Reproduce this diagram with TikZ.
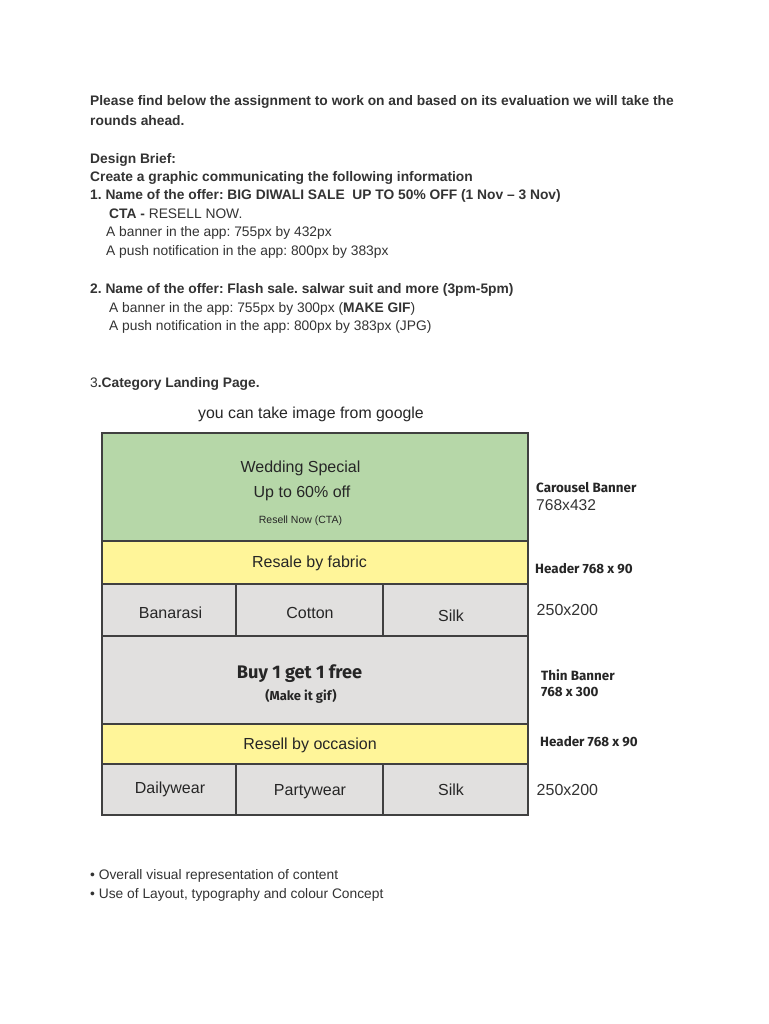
\documentclass[tikz,border=0pt]{standalone}
\usepackage{fontspec}
\setmainfont{Liberation Sans}
\newfontfamily\tagfont{Fira Sans}
\definecolor{bodygray}{HTML}{333333}
\definecolor{bannergreen}{HTML}{B6D7A8}
\definecolor{headeryellow}{HTML}{FFF599}
\definecolor{tilegray}{HTML}{E1E0DF}
\tikzset{
  bodyline/.style={anchor=base west,inner sep=0pt,text=bodygray,font=\fontsize{13.8}{15}\selectfont\frenchspacing},
  cell/.style={draw=black!75,line width=1.1pt,anchor=north west,inner sep=0pt,outer sep=0pt},
  boxtext/.style={inner sep=0pt,text=black!85,font=\fontsize{16}{18}\selectfont},
  sidelabel/.style={anchor=base west,inner sep=0pt,text=black!85,font=\tagfont\fontsize{13.4}{15}\selectfont\bfseries},
  sizelabel/.style={anchor=base west,inner sep=0pt,text=black!80,font=\fontsize{16}{18}\selectfont},
}
\begin{document}
\begin{tikzpicture}[x=1pt,y=1pt]
\useasboundingbox[fill=white] (0,0) rectangle (768,-1024);
% Drawing the brief
\node[bodyline] (intro) at (90,-106) {\textbf{Please find below the assignment to work on and based on its evaluation we will take the}};
\node[bodyline] (introb) at (90,-125.5) {\textbf{rounds ahead.}};
\node[bodyline] (brief) at (90,-163.5) {\textbf{Design Brief:}};
\node[bodyline] (create) at (90,-181.5) {\textbf{Create a graphic communicating the following information}};
\node[bodyline] (offera) at (90,-199.5) {\textbf{1. Name of the offer: BIG DIWALI SALE\ \ UP TO 50\% OFF (1 Nov – 3 Nov)}};
\node[bodyline] (cta) at (109,-218.5) {\textbf{CTA -} RESELL NOW.};
\node[bodyline] (bannera) at (106,-236.5) {A banner in the app: 755px by 432px};
\node[bodyline] (pusha) at (106,-255.5) {A push notification in the app: 800px by 383px};
\node[bodyline] (offerb) at (90,-293.5) {\textbf{2. Name of the offer: Flash sale. salwar suit and more (3pm-5pm)}};
\node[bodyline] (bannerb) at (109,-312.5) {A banner in the app: 755px by 300px (\textbf{MAKE GIF})};
\node[bodyline] (pushb) at (109,-330.5) {A push notification in the app: 800px by 383px (JPG)};
\node[bodyline] (landing) at (90,-387.5) {3\textbf{.Category Landing Page.}};
\node[anchor=base west,inner sep=0pt,text=black!85,font=\fontsize{15.85}{18}\selectfont] (google) at (198,-418) {you can take image from google};
% Drawing the page mockup
\node[cell,fill=bannergreen,minimum width=426pt,minimum height=108pt] (carousel) at (102,-433) {};
\node[cell,fill=headeryellow,minimum width=426pt,minimum height=43pt] (fabric) at (102,-541) {};
\node[cell,fill=tilegray,minimum width=134pt,minimum height=52pt] (banarasi) at (102,-584) {};
\node[cell,fill=tilegray,minimum width=147pt,minimum height=52pt] (cotton) at (236,-584) {};
\node[cell,fill=tilegray,minimum width=145pt,minimum height=52pt] (silka) at (383,-584) {};
\node[cell,fill=tilegray,minimum width=426pt,minimum height=88pt] (thin) at (102,-636) {};
\node[cell,fill=headeryellow,minimum width=426pt,minimum height=40pt] (occasion) at (102,-724) {};
\node[cell,fill=tilegray,minimum width=134pt,minimum height=51pt] (dailywear) at (102,-764) {};
\node[cell,fill=tilegray,minimum width=147pt,minimum height=51pt] (partywear) at (236,-764) {};
\node[cell,fill=tilegray,minimum width=145pt,minimum height=51pt] (silkb) at (383,-764) {};
% Done with boxes; drawing their texts
\node[boxtext] (wedding) at (300.5,-468) {Wedding Special};
\node[boxtext] (upto) at (302,-493.5) {Up to 60\% off};
\node[boxtext,font=\fontsize{10.5}{12}\selectfont] (resell) at (300.5,-521) {Resell Now (CTA)};
\node[boxtext] (fabrictext) at (309.5,-563.5) {Resale by fabric};
\node[boxtext] (banarasitext) at (170.5,-613) {Banarasi};
\node[boxtext] (cottontext) at (310,-612.5) {Cotton};
\node[boxtext] (silkatext) at (451,-616) {Silk};
\node[boxtext,font=\tagfont\fontsize{18.2}{20}\selectfont\bfseries] (buy) at (299.5,-674) {Buy 1 get 1 free};
\node[boxtext,font=\tagfont\fontsize{13}{16}\selectfont\bfseries] (gif) at (301,-696) {(Make it gif)};
\node[boxtext] (occasiontext) at (310,-745.5) {Resell by occasion};
\node[boxtext] (dailytext) at (170,-789.5) {Dailywear};
\node[boxtext] (partytext) at (310,-791.5) {Partywear};
\node[boxtext] (silkbtext) at (451,-790) {Silk};
% Drawing side labels
\node[sidelabel] (carousellabel) at (536,-492) {Carousel Banner};
\node[sizelabel,font=\fontsize{15.6}{18}\selectfont] (carouselsize) at (536,-510.5) {768x432};
\node[sidelabel] (headera) at (535,-573) {Header 768 x 90};
\node[sizelabel] (sizea) at (536.5,-615.5) {250x200};
\node[sidelabel] (thinlabel) at (541,-680) {Thin Banner};
\node[sidelabel] (thinsize) at (541,-696) {768 x 300};
\node[sidelabel] (headerb) at (540,-746.5) {Header 768 x 90};
\node[sizelabel] (sizeb) at (536.5,-795) {250x200};
% Done with mockup; drawing the closing bullets
\node[bodyline] (bulleta) at (90,-879) {• Overall visual representation of content};
\node[bodyline] (bulletb) at (90,-898) {• Use of Layout, typography and colour Concept};
\end{tikzpicture}
\end{document}
